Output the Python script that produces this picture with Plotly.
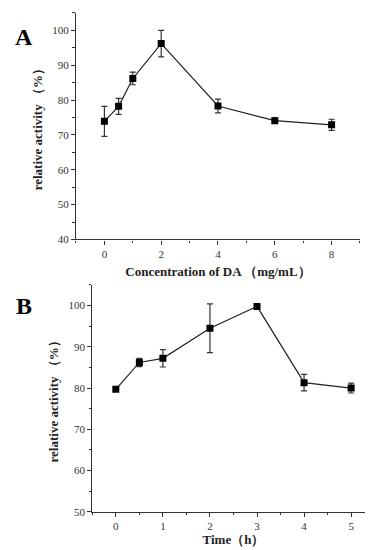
import plotly.graph_objects as go

# Panel A data
conc = [0, 0.5, 1, 2, 4, 6, 8]
act_a = [73.9, 78.2, 86.2, 96.2, 78.3, 74.1, 72.9]
err_a = [4.3, 2.3, 1.8, 3.8, 2.0, 0.8, 1.6]

# Panel B data
time_h = [0, 0.5, 1, 2, 3, 4, 5]
act_b = [79.7, 86.2, 87.2, 94.5, 99.8, 81.3, 80.0]
err_b = [0.4, 1.0, 2.1, 5.9, 0.3, 2.0, 1.2]

FONT = "Liberation Serif"

fig = go.Figure()
common = dict(mode="lines+markers",
              line=dict(color="#222222", width=1.2),
              marker=dict(symbol="square", size=7, color="black"),
              showlegend=False)
fig.add_trace(go.Scatter(x=conc, y=act_a,
                         error_y=dict(type="data", array=err_a, color="#333333", thickness=1.2, width=3),
                         xaxis="x", yaxis="y", **common))
fig.add_trace(go.Scatter(x=time_h, y=act_b,
                         error_y=dict(type="data", array=err_b, color="#333333", thickness=1.2, width=3),
                         xaxis="x2", yaxis="y2", **common))

axis_style = dict(showline=True, linecolor="#333333", linewidth=1.3, showgrid=False, zeroline=False,
                  ticks="outside", ticklen=4, tickwidth=1, tickcolor="#333333",
                  tickfont=dict(family=FONT, size=11, color="#333333"))
title_font = dict(family=FONT, size=13, color="#222222")

fig.update_layout(
    width=373, height=550,
    margin=dict(l=0, r=0, t=0, b=0),
    paper_bgcolor="white", plot_bgcolor="white",
    xaxis=dict(domain=[0.1823, 0.9437], anchor="y", range=[-1, 9], dtick=2, tick0=0,
               minor=dict(ticks="outside", dtick=1, ticklen=2.5, tickcolor="#333333"),
               title=dict(text="<b>Concentration of DA （mg/mL）</b>", font=title_font, standoff=8),
               **axis_style),
    yaxis=dict(domain=[0.5745, 0.9909], anchor="x", range=[40, 105], dtick=10, tick0=40,
               minor=dict(ticks="outside", dtick=5, ticklen=2.5, tickcolor="#333333"),
               title=dict(text="<b>relative activity （%）</b>", font=title_font, standoff=6),
               **axis_style),
    xaxis2=dict(domain=[0.226, 0.983], anchor="y2", range=[-0.5, 5.5], dtick=1, tick0=0,
                minor=dict(ticks="outside", dtick=0.5, ticklen=2.5, tickcolor="#333333"),
                title=dict(text="<b>Time（h）</b>", font=title_font, standoff=3),
                **axis_style),
    yaxis2=dict(domain=[0.074, 0.4909], anchor="x2", range=[50, 105], dtick=10, tick0=50,
                minor=dict(ticks="outside", dtick=5, ticklen=2.5, tickcolor="#333333"),
                title=dict(text="<b>relative activity （%）</b>", font=title_font, standoff=6),
                **axis_style),
    annotations=[
        dict(text="<b>A</b>", x=16/373, y=1-29/550, xref="paper", yref="paper",
             xanchor="center", yanchor="middle", showarrow=False,
             font=dict(family=FONT, size=24, color="black")),
        dict(text="<b>B</b>", x=16/373, y=1-301/550, xref="paper", yref="paper",
             xanchor="center", yanchor="middle", showarrow=False,
             font=dict(family=FONT, size=24, color="black")),
    ],
)

fig.write_html("out.html")
